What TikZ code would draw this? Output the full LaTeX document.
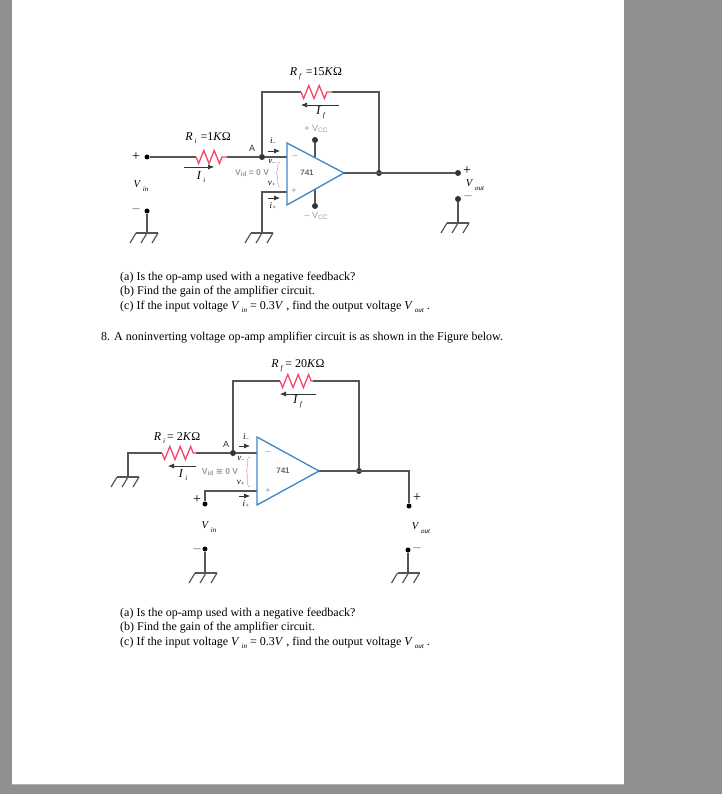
\documentclass[tikz,border=0pt]{standalone}
\usepackage{fontspec}
\setmainfont{Liberation Serif}
\setsansfont{Liberation Sans}
\newfontfamily\symfont{DejaVu Sans}
\usetikzlibrary{decorations.pathmorphing,arrows.meta}
\definecolor{wirec}{HTML}{555555}
\definecolor{ampc}{HTML}{3F86C6}
\definecolor{resc}{HTML}{F2476B}
\definecolor{labc}{HTML}{9A9A9A}
\definecolor{bgc}{HTML}{8F8F8F}
\newcommand{\VarSub}[2]{\textit{#1}\,\raisebox{-3.5pt}{\fontsize{7}{7}\selectfont\textit{#2}}}
\newcommand{\TinySub}[2]{\textit{#1}\raisebox{-1.5pt}{\fontsize{6}{6}\selectfont\textit{#2}}}
\newcommand{\SansSub}[2]{#1\raisebox{-1.5pt}{\fontsize{6.5}{7}\selectfont #2}}
\tikzset{
  x=1pt,y=-1pt,
  wire/.style={draw=wirec,line width=1.4pt,line join=miter},
  amp/.style={draw=ampc,line width=1.3pt,line join=miter},
  resistor/.style={draw=resc,line width=1.3pt,decorate,decoration={zigzag,amplitude=6.5,segment length=10.4,mirror}},
  dotn/.style={circle,fill=black!80,inner sep=0pt,minimum size=6pt},
  smalldot/.style={circle,fill=black,inner sep=0pt,minimum size=5pt},
  arr/.style={draw=black!80,line width=.7pt,-{Latex[length=6pt,width=5pt]}},
  body/.style={inner sep=0pt,anchor=base west,font=\fontsize{12}{13}\selectfont},
  eq/.style={inner sep=0pt,font=\fontsize{12}{12}\selectfont},
  lab/.style={inner sep=0pt,font=\fontsize{12}{12}\selectfont},
  vlab/.style={inner sep=0pt,font=\fontsize{10.5}{11}\selectfont},
  slab/.style={inner sep=0pt,font=\fontsize{9}{9}\selectfont},
  gr/.style={inner sep=0pt,text=labc,font=\sffamily\bfseries\fontsize{8.5}{8.5}\selectfont},
  sg/.style={inner sep=0pt,text=labc,font=\sffamily\fontsize{9}{9}\selectfont},
  aname/.style={inner sep=0pt,text=black!80,font=\sffamily\fontsize{9}{9}\selectfont},
  num/.style={inner sep=0pt,text=black!60,font=\sffamily\bfseries\fontsize{8}{8}\selectfont},
  signm/.style={inner sep=0pt,text=black!40,font=\sffamily\fontsize{9}{9}\selectfont},
  brace/.style={draw=resc!55,line width=.6pt},
  pm/.style={inner sep=0pt,font=\fontsize{14}{14}\selectfont},
  pmg/.style={inner sep=0pt,text=black!55,font=\fontsize{14}{14}\selectfont},
}
\newcommand{\Ground}[2]{%
  \draw[wire] (#1-11,#2) -- (#1+11,#2);
  \draw[wire,line width=1.2pt] (#1-11,#2) -- (#1-17,#2+10)
     (#1,#2) -- (#1-6,#2+10) (#1+11,#2) -- (#1+5,#2+10);
}
\begin{document}
\begin{tikzpicture}
\useasboundingbox (0,0) rectangle (722,794);
\fill[bgc] (0,0) rectangle (722,794);
\fill[white] (12,0) rectangle (624,784);
\fill[black!30] (12,784) rectangle (624,785);

% ---------- Figure 1 ----------
\coordinate (a1tl) at (287,143);
\coordinate (a1bl) at (287,205);
\coordinate (a1tip) at (344,173);
\coordinate (a1inm) at (287,157);
\coordinate (a1inp) at (287,192);
\coordinate (a1up) at (315,157);
\coordinate (a1dn) at (315,189);
\coordinate (c1l) at (262,92);
\coordinate (c1r) at (379,92);
\coordinate (r1fa) at (301,92);
\coordinate (r1fb) at (332,92);
\coordinate (r1ia) at (196,157);
\coordinate (r1ib) at (227,157);
\coordinate (g1p) at (262,233);
\coordinate (c1p) at (262,192);
\coordinate (g1i) at (147,233);
\coordinate (g1o) at (458,223);
\node[smalldot] (t1in) at (147,157) {};
\node[smalldot] (t1ing) at (147,211) {};
\node[dotn] (j1a) at (262,157) {};
\node[dotn] (j1o) at (379,173) {};
\node[dotn] (t1o) at (458,173) {};
\node[dotn] (t1og) at (458,199) {};
\node[dotn] (v1p) at (315,140) {};
\node[dotn] (v1m) at (315,206) {};

\draw[wire] (j1a) -- (c1l) -- (r1fa) (r1fb) -- (c1r) -- (j1o);
\draw[resistor] (r1fa) -- (r1fb);
\draw[wire] (t1in) -- (r1ia) (r1ib) -- (j1a) -- (a1inm);
\draw[resistor] (r1ia) -- (r1ib);
\draw[wire] (a1inp) -- (c1p) -- (g1p);
\draw[wire] (a1tip) -- (t1o);
\draw[wire] (t1ing) -- (g1i);
\draw[wire] (t1og) -- (g1o);
\draw[wire] (v1p) -- (a1up) (v1m) -- (a1dn);
\draw[amp] (a1tl) -- (a1tip) -- (a1bl) -- cycle;
\Ground{147}{233}\Ground{262}{233}\Ground{458}{223}

\node[eq] (l1rf) at (316,74) {\VarSub{R}{f}\,\,=15\textit{K}Ω};
\node[eq] (l1ri) at (208,138) {\VarSub{R}{i}\,\,=1\textit{K}Ω};
\coordinate (i1fa) at (339,105); \coordinate (i1fb) at (301,105);
\draw[arr] (i1fa) -- (i1fb);
\node[lab] (l1if) at (321,113) {\VarSub{I}{f}};
\coordinate (i1ia) at (184,167); \coordinate (i1ib) at (214,167);
\draw[arr] (i1ia) -- (i1ib);
\node[lab] (l1ii) at (201,177) {\VarSub{I}{i}};
\node[pm] (l1p) at (136,157) {+};
\node[pmg] (l1m) at (136,211) {–};
\node[pm] (l1op) at (467,171) {+};
\node[pmg] (l1om) at (468,198) {–};
\node[vlab] (l1vin) at (141,186) {\VarSub{V}{in}};
\node[vlab] (l1vout) at (475,185) {\VarSub{V}{out}};
\node[aname] (l1A) at (252,148) {A};
\node[slab] (l1im) at (273,141) {\TinySub{i}{–}};
\coordinate (i1ma) at (268,151); \coordinate (i1mb) at (280,151);
\draw[arr] (i1ma) -- (i1mb);
\coordinate (i1pa) at (268,198); \coordinate (i1pb) at (280,198);
\draw[arr] (i1pa) -- (i1pb);
\node[slab] (l1ip) at (273,206) {\TinySub{i}{+}};
\node[slab] (l1vm) at (272,162) {\TinySub{v}{–}};
\node[slab] (l1vp) at (272,184) {\TinySub{v}{+}};
\node[gr] (l1vd) at (252,173) {\SansSub{V}{id} = 0 V};
\draw[brace] (280,162) .. controls (276,162) and (279,172) .. (276,173) .. controls (279,174) and (276,187) .. (280,187);
\node[num] (l1n) at (307,173) {741};
\node[sg] (l1vcp) at (316,129) {+ \SansSub{V}{CC}};
\node[sg] (l1vcm) at (316,216) {– \SansSub{V}{CC}};
\node[signm] (l1sm) at (295,157) {–};
\node[signm] (l1sp) at (294,191) {+};

% ---------- First questions ----------
\node[body] (q1a) at (120,280) {(a) Is the op-amp used with a negative feedback?};
\node[body] (q1b) at (120,294) {(b) Find the gain of the amplifier circuit.};
\node[body] (q1c) at (120,309) {(c) If the input voltage \VarSub{V}{in} = 0.3\textit{V} , find the output voltage \VarSub{V}{out} .};
\node[body] (q8) at (101,340) {8. A noninverting voltage op-amp amplifier circuit is as shown in the Figure below.};

% ---------- Figure 2 ----------
\coordinate (a2tl) at (257,437);
\coordinate (a2bl) at (257,505);
\coordinate (a2tip) at (319,471);
\coordinate (a2inm) at (257,453);
\coordinate (a2inp) at (257,491);
\coordinate (c2l) at (233,381);
\coordinate (c2r) at (359,381);
\coordinate (r2fa) at (280,381);
\coordinate (r2fb) at (313,381);
\coordinate (r2ia) at (162,453);
\coordinate (r2ib) at (196,453);
\coordinate (c2g) at (128,453);
\coordinate (g2r) at (128,477);
\coordinate (c2p) at (205,491);
\coordinate (c2o) at (409,471);
\coordinate (g2i) at (205,573);
\coordinate (g2o) at (408,573);
\node[dotn] (j2a) at (233,453) {};
\node[dotn] (j2o) at (359,471) {};
\node[smalldot] (t2in) at (205,504) {};
\node[smalldot] (t2ing) at (205,549) {};
\node[smalldot] (t2o) at (409,506) {};
\node[smalldot] (t2og) at (408,550) {};

\draw[wire] (j2a) -- (c2l) -- (r2fa) (r2fb) -- (c2r) -- (j2o);
\draw[resistor] (r2fa) -- (r2fb);
\draw[wire] (g2r) -- (c2g) -- (r2ia) (r2ib) -- (j2a) -- (a2inm);
\draw[resistor] (r2ia) -- (r2ib);
\draw[wire] (a2inp) -- (c2p) -- (t2in);
\draw[wire] (a2tip) -- (c2o) -- (t2o);
\draw[wire] (t2ing) -- (g2i);
\draw[wire] (t2og) -- (g2o);
\draw[amp] (a2tl) -- (a2tip) -- (a2bl) -- cycle;
\Ground{128}{477}\Ground{206}{573}\Ground{408.500}{573}

\node[eq] (l2rf) at (298,366) {\VarSub{R}{f}\,= 20\textit{K}Ω};
\node[eq] (l2ri) at (177,438) {\VarSub{R}{i}\,= 2\textit{K}Ω};
\coordinate (i2fa) at (316,394); \coordinate (i2fb) at (280,394);
\draw[arr] (i2fa) -- (i2fb);
\node[lab] (l2if) at (298,402) {\VarSub{I}{f}};
\coordinate (i2ia) at (196,466); \coordinate (i2ib) at (168,466);
\draw[arr] (i2ia) -- (i2ib);
\node[lab] (l2ii) at (183,475) {\VarSub{I}{i}};
\node[pm] (l2p) at (197,500) {+};
\node[pmg] (l2m) at (197,551) {–};
\node[pm] (l2op) at (417,498) {+};
\node[pmg] (l2om) at (417,550) {–};
\node[vlab] (l2vin) at (209,527) {\VarSub{V}{in}};
\node[vlab] (l2vout) at (421,528) {\VarSub{V}{out}};
\node[aname] (l2A) at (226,444) {A};
\node[slab] (l2im) at (246,437) {\TinySub{i}{–}};
\coordinate (i2ma) at (239,446); \coordinate (i2mb) at (250,446);
\draw[arr] (i2ma) -- (i2mb);
\coordinate (i2pa) at (239,496); \coordinate (i2pb) at (250,496);
\draw[arr] (i2pa) -- (i2pb);
\node[slab] (l2ip) at (246,504) {\TinySub{i}{+}};
\node[slab] (l2vm) at (241,459) {\TinySub{v}{–}};
\node[slab] (l2vp) at (241,483) {\TinySub{v}{+}};
\node[gr] (l2vd) at (220,472) {\SansSub{V}{id} {\symfont ≅} 0 V};
\draw[brace] (250,457) .. controls (245,457) and (249,470) .. (246,471) .. controls (249,472) and (245,487) .. (250,487);
\node[num] (l2n) at (283,471) {741};
\node[signm] (l2sm) at (268,453) {–};
\node[signm] (l2sp) at (268,491) {+};

% ---------- Second questions ----------
\node[body] (q2a) at (120,616) {(a) Is the op-amp used with a negative feedback?};
\node[body] (q2b) at (120,630) {(b) Find the gain of the amplifier circuit.};
\node[body] (q2c) at (120,645) {(c) If the input voltage \VarSub{V}{in} = 0.3\textit{V} , find the output voltage \VarSub{V}{out} .};
\end{tikzpicture}
\end{document}
